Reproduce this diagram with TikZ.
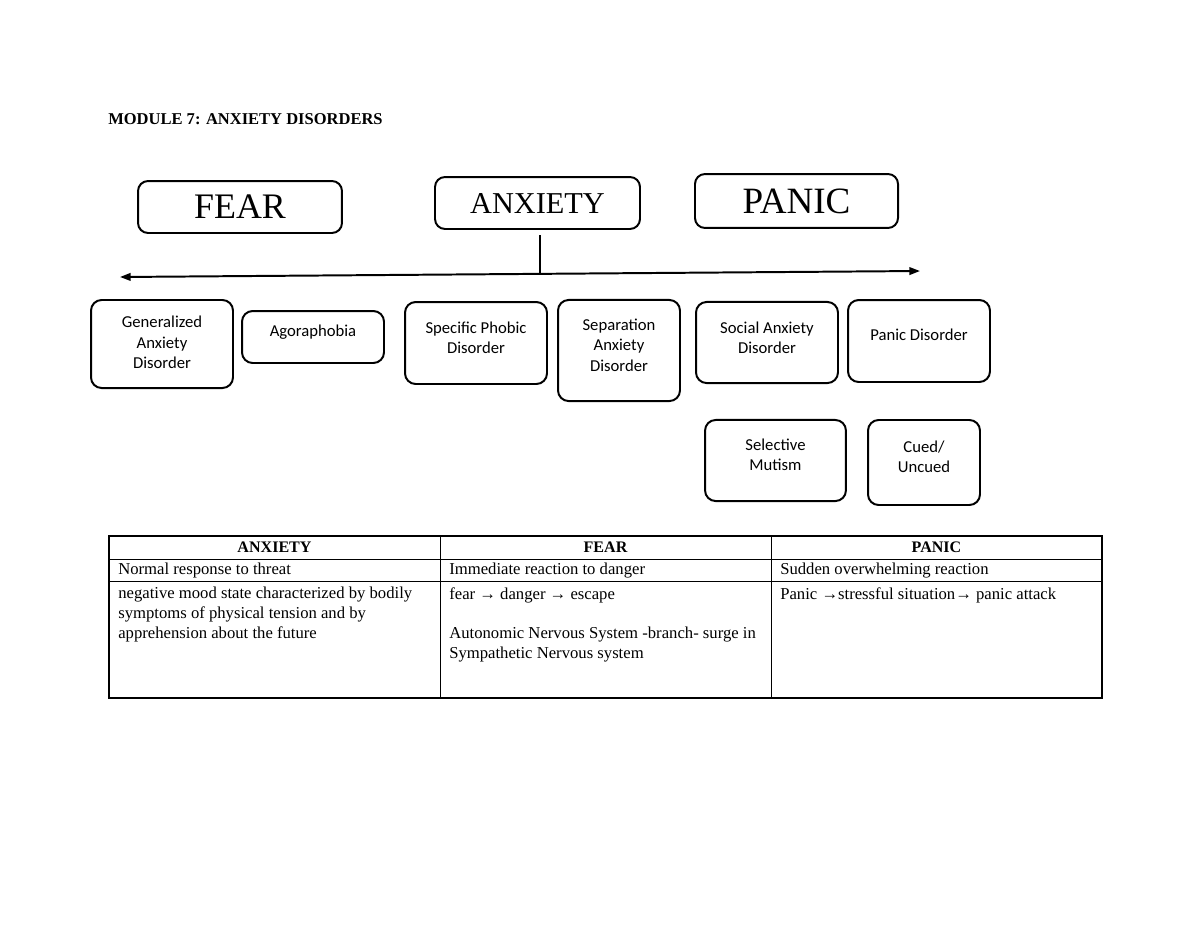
\documentclass[tikz,border=0pt]{standalone}
\usepackage{fontspec}
\setmainfont{Liberation Serif}
\newfontfamily\boxfont{Carlito}
\usetikzlibrary{arrows.meta}
\begin{document}
\begin{tikzpicture}[x=0.66pt, y=-0.66pt,
    bigbox/.style={draw, line width=1.3pt, rounded corners=6.6pt, inner sep=0pt},
    subbox/.style={draw, line width=1.3pt, rounded corners=7pt, inner sep=0pt},
    subtext/.style={font=\boxfont\fontsize{11}{13.5}\selectfont, align=center, inner sep=0pt},
    celltext/.style={font=\fontsize{11}{13}\selectfont, align=left, inner sep=0pt},
    headtext/.style={font=\fontsize{10.6}{13}\selectfont\bfseries, inner sep=0pt, anchor=base}]
  \useasboundingbox (0,0) rectangle (1200,927);
  %
  \node[anchor=west, inner sep=0pt, font=\fontsize{10.9}{12}\selectfont\bfseries] (title) at (108,119) {MODULE 7: ANXIETY DISORDERS};
  %
  \node[bigbox, minimum width=134.6pt, minimum height=34.3pt, font=\fontsize{23.7}{28}\selectfont] (fear) at (240,207) {FEAR};
  \node[bigbox, minimum width=135.3pt, minimum height=34.3pt, font=\fontsize{20}{24}\selectfont] (anx) at (537.5,203) {ANXIETY};
  \node[bigbox, minimum width=134pt, minimum height=35.6pt, font=\fontsize{24.5}{28}\selectfont] (panic) at (796.5,201) {PANIC};
  %
  \coordinate (left) at (120,277);
  \coordinate (right) at (920,271);
  \coordinate (mid) at (540,274);
  \draw[line width=1.3pt, {Triangle[length=7pt,width=5pt]}-{Triangle[length=7pt,width=5pt]}] (left) -- (right);
  \draw[line width=1.3pt] (540,235) -- (mid);
  %
  \node[subbox, minimum width=93.7pt, minimum height=58.1pt] (gad) at (162,344) {};
  \node[subbox, minimum width=93.7pt, minimum height=34.3pt] (agora) at (313,337) {};
  \node[subbox, minimum width=93.7pt, minimum height=54.1pt] (spec) at (476,343) {};
  \node[subbox, minimum width=80.5pt, minimum height=66.7pt] (sep) at (619,350.5) {};
  \node[subbox, minimum width=93.7pt, minimum height=53.5pt] (social) at (767,342.5) {};
  \node[subbox, minimum width=93.7pt, minimum height=54.1pt] (pdis) at (919,341) {};
  \node[subbox, minimum width=93pt, minimum height=53.5pt] (mutism) at (775.5,460.5) {};
  \node[subbox, minimum width=73.9pt, minimum height=56.1pt] (cued) at (924,462.5) {};
  %
  \node[subtext] (gadtext) at (162,342.5) {Generalized\\Anxiety\\Disorder};
  \node[subtext] (agoratext) at (313,332) {Agoraphobia};
  \node[subtext] (spectext) at (476,337.5) {Specific Phobic\\Disorder};
  \node[subtext] (septext) at (619,345) {Separation\\Anxiety\\Disorder};
  \node[subtext] (socialtext) at (767,337.5) {Social Anxiety\\Disorder};
  \node[subtext] (pdistext) at (919,335) {Panic Disorder};
  \node[subtext] (mutismtext) at (775.5,454.5) {Selective\\Mutism};
  \node[subtext] (cuedtext) at (924,457) {Cued/\\Uncued};
  %
  \draw[line width=1pt] (109,536) rectangle (1102,698);
  \draw(109,559) -- (1102,559);
  \draw(109,581) -- (1102,581);
  \draw(440,536) -- (440,698);
  \draw(771,536) -- (771,698);
  %
  \node[headtext] (hanx) at (274.5,552) {ANXIETY};
  \node[headtext] (hfear) at (605.5,552) {FEAR};
  \node[headtext] (hpanic) at (936.5,552) {PANIC};
  %
  \node[celltext, anchor=base west] (anxdef) at (118,574) {Normal response to threat};
  \node[celltext, anchor=base west] (feardef) at (449,574) {Immediate reaction to danger};
  \node[celltext, anchor=base west] (panicdef) at (780,574) {Sudden overwhelming reaction};
  %
  \node[celltext, anchor=north west] (anxnote) at (118,587) {negative mood state characterized by bodily\\symptoms of physical tension and by\\apprehension about the future};
  \node[celltext, anchor=north west] (fearnote) at (449,587) {fear → danger → escape\\[13pt]Autonomic Nervous System -branch- surge in\\Sympathetic Nervous system};
  \node[celltext, anchor=north west] (panicnote) at (780,587) {Panic →stressful situation→ panic attack};
  %
\end{tikzpicture}
\end{document}
